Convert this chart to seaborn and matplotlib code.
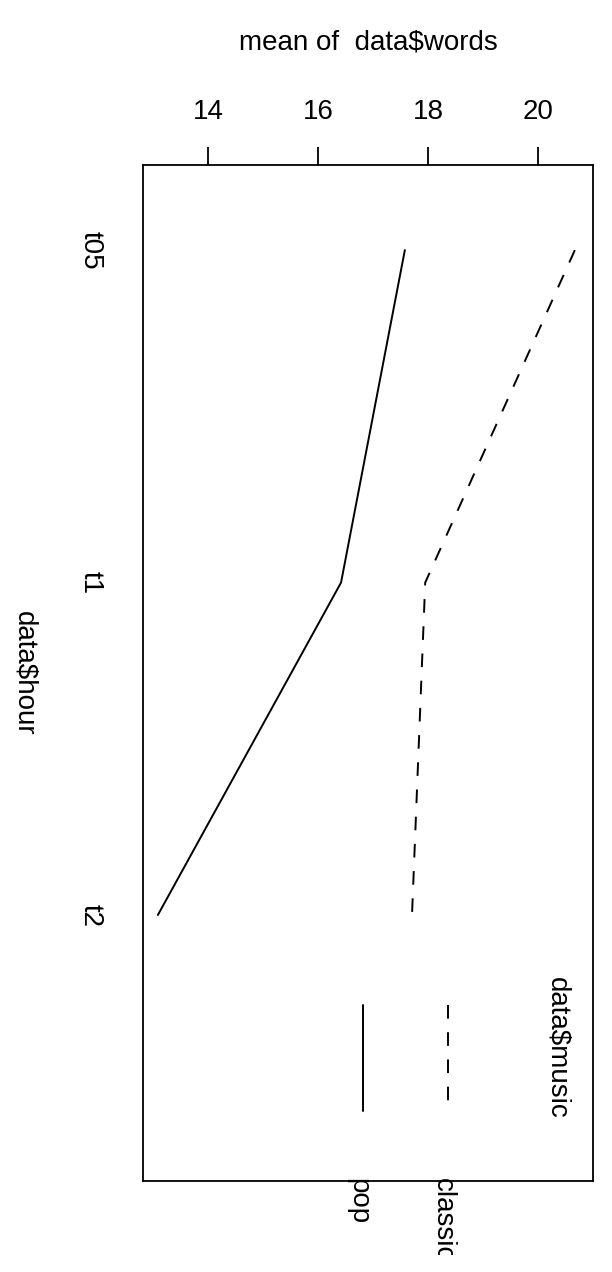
import numpy as np
import pandas as pd
import matplotlib
matplotlib.use('Agg')
import matplotlib.pyplot as plt
from matplotlib.transforms import Bbox, TransformedBbox
import seaborn as sns

# interaction plot of mean words by hour and music, drawn turned a quarter clockwise
hours = ['t05', 't1', 't2']
music = ['classic', 'pop']
classic_words = [20.67, 17.95, 17.71]
pop_words = [17.58, 16.42, 13.09]
word_ticks = [14, 16, 18, 20]

df = pd.DataFrame({
    'hour': hours * 2,
    'music': ['classic'] * 3 + ['pop'] * 3,
    'words': classic_words + pop_words,
})
df['hour_pos'] = pd.Categorical(df['hour'], categories=hours).codes + 1

sns.set_style('white')
plt.rcParams['font.family'] = ['Liberation Sans', 'DejaVu Sans']
plt.rcParams['text.color'] = 'black'
plt.rcParams['xtick.color'] = 'black'
plt.rcParams['ytick.color'] = 'black'

FS = 20
W, H = 612, 1272
fig = plt.figure(figsize=(W / 100, H / 100), dpi=100)
left, right, top, bottom = 143, 593, 165, 1181
ax = fig.add_axes([left / W, 1 - bottom / H, (right - left) / W, (bottom - top) / H])

sns.lineplot(data=df, x='words', y='hour_pos', style='music', style_order=music,
             dashes={'classic': (7, 7), 'pop': ''}, color='black', linewidth=1.4,
             orient='y', sort=False, errorbar=None, legend=False, ax=ax)

ax.set_xlim(12.82, 21.0)
ax.set_ylim(3.80, 0.744)

for s in ax.spines.values():
    s.set_visible(True)
    s.set_color('black')
    s.set_linewidth(1.3)

ax.xaxis.tick_top()
ax.set_xticks(word_ticks)
ax.set_xticklabels([str(t) for t in word_ticks])
ax.tick_params(axis='x', top=True, bottom=False, labeltop=True, labelbottom=False,
               direction='out', length=13, width=1.3, pad=16, labelsize=FS,
               colors='black')
ax.set_yticks(range(1, len(hours) + 1))
ax.set_yticklabels(hours, rotation=-90, va='center', ha='center')
ax.tick_params(axis='y', left=True, length=0, pad=38, labelsize=FS, colors='black')
ax.set_xlabel('')
ax.set_ylabel('')

fig.text(368 / W, 1 - 43 / H, 'mean of  data$words', fontsize=FS,
         ha='center', va='center')
fig.text(24 / W, 1 - 673 / H, 'data$hour', fontsize=FS, rotation=-90,
         ha='center', va='center')

# legend, drawn inside the box and turned like the rest
leg_x = {'classic': 18.36, 'pop': 16.82}
leg_dash = {'classic': (0, (7, 7)), 'pop': '-'}
ax.text(20.35, 3.40, 'data$music', fontsize=FS, rotation=-90,
        ha='center', va='center')
# the labels run off the device in the original, cut a little above the bottom
cut = TransformedBbox(Bbox([[0, 17 / H], [1, 1]]), fig.transFigure)
for m in music:
    ax.plot([leg_x[m], leg_x[m]], [3.27, 3.59], color='black', lw=1.4,
            linestyle=leg_dash[m])
    t = ax.text(leg_x[m] - 0.08, 3.79, m, fontsize=FS, rotation=-90,
                ha='center', va='top')
    t.set_clip_on(True)
    t.set_clip_box(cut)

fig.savefig('out.png', dpi=100)
